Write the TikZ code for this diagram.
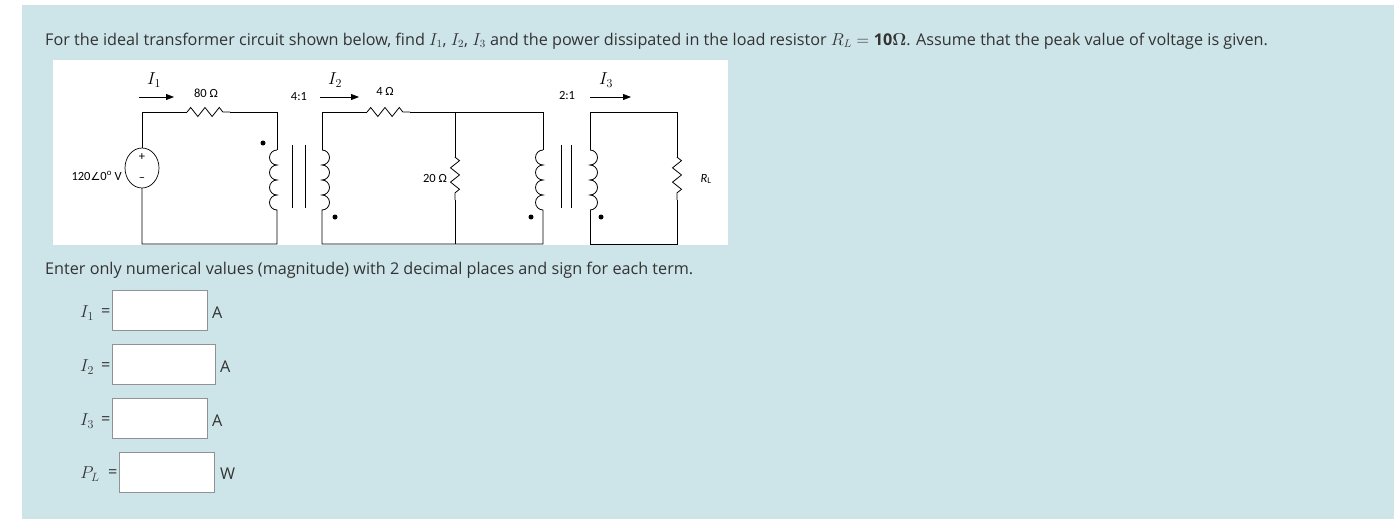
\documentclass[tikz,border=0pt]{standalone}
\usepackage{amsmath}
\usepackage{fontspec}
\setmainfont{Open Sans}
\newfontfamily\cirfont{Carlito}
\newfontfamily\djv{DejaVu Sans}
\usetikzlibrary{decorations.pathmorphing,arrows.meta}
\definecolor{panel}{HTML}{CDE4E8}
\definecolor{txt}{HTML}{333333}
\definecolor{boxgray}{HTML}{8F9396}
\begin{document}
\begin{tikzpicture}[x=1pt,y=-1pt,
  wire/.style={line width=0.8pt,black},
  res/.style={line width=0.8pt,decorate,decoration={zigzag,segment length=14.3pt,amplitude=4.5pt,pre length=0.1pt,post length=0.1pt}},
  cl/.style={font=\cirfont\fontsize{12.5}{13}\selectfont,inner sep=0pt},
  il/.style={font=\fontsize{17}{17}\selectfont,inner sep=0pt},
  arr/.style={line width=0.8pt,-{Triangle[length=8pt,width=6pt]}},
  dot/.style={circle,fill=black,inner sep=0pt,minimum size=5pt},
  ans/.style={draw=boxgray,fill=white,line width=0.8pt},
  ft/.style={font=\fontsize{16.2}{18}\selectfont,text=txt,inner sep=0pt,anchor=west}]
\useasboundingbox (0,0) rectangle (1396,519);
\fill[panel] (22,5) rectangle (1394,519);
\node[ft] (title) at (45,41) {For the ideal transformer circuit shown below, find $I_1$, $I_2$, $I_3$ and the power dissipated in the load resistor $R_L=\mathbf{10}\boldsymbol{\Omega}$. Assume that the peak value of voltage is given.};
\fill[white] (53,60) rectangle (728,245);
% loop 1
\draw[wire] (142,148) -- (142,112) -- (187,112);
\draw[res] (187,112) -- (230,112);
\draw[wire] (230,112) -- (277,112) -- (277,150);
\draw[wire] (277,150) arc[start angle=270,end angle=90,radius=7.5] arc[start angle=270,end angle=90,radius=7.5] arc[start angle=270,end angle=90,radius=7.5] arc[start angle=270,end angle=90,radius=7.5] -- (277,244) -- (142,244) -- (142,188);
\draw[line width=0.7pt] (142,168) ellipse[x radius=17,y radius=20];
\node[cl] (plus) at (142,157) {+};
\node[cl] (minus) at (142,180) {–};
\node[cl,anchor=east] (vs) at (122,176) {120{\djv\fontsize{11}{12}\selectfont∠}0\textsuperscript{o} V};
\node[dot] (d1) at (263,143) {};
\draw[line width=0.7pt] (292,145) -- (292,208) (305,145) -- (305,208);
% loop 2
\draw[wire] (322,150) -- (322,112) -- (367,112);
\draw[res] (367,112) -- (410,112);
\draw[wire] (410,112) -- (543,112) -- (543,150);
\draw[wire] (322,150) arc[start angle=270,end angle=450,radius=7.5] arc[start angle=270,end angle=450,radius=7.5] arc[start angle=270,end angle=450,radius=7.5] arc[start angle=270,end angle=450,radius=7.5] -- (322,244) -- (543,244) -- (543,210);
\draw[wire] (543,150) arc[start angle=270,end angle=90,radius=7.5] arc[start angle=270,end angle=90,radius=7.5] arc[start angle=270,end angle=90,radius=7.5] arc[start angle=270,end angle=90,radius=7.5];
\draw[wire] (455,112) -- (455,157);
\draw[res] (455,157) -- (455,200);
\draw[wire] (455,200) -- (455,244);
\node[dot] (d2) at (335,217) {};
\node[dot] (d3) at (531,217) {};
\draw[line width=0.7pt] (561,145) -- (561,208) (571,145) -- (571,208);
% loop 3
\draw[wire] (590,150) -- (590,112) -- (677,112) -- (677,157);
\draw[res] (677,157) -- (677,200);
\draw[wire] (677,200) -- (677,244) -- (590,244) -- (590,210);
\draw[wire] (590,150) arc[start angle=270,end angle=450,radius=7.5] arc[start angle=270,end angle=450,radius=7.5] arc[start angle=270,end angle=450,radius=7.5] arc[start angle=270,end angle=450,radius=7.5];
\node[dot] (d4) at (601,217) {};
% labels
\node[il] (i1) at (154,80) {$I_1$};
\draw[arr] (139,97) -- (174,97);
\node[cl] (r80) at (206,93) {80 Ω};
\node[cl] (t41) at (299,97) {4:1};
\node[il] (i2) at (335,80) {$I_2$};
\draw[arr] (320,97) -- (359,97);
\node[cl] (r4) at (385,91) {4 Ω};
\node[cl] (t21) at (567,95) {2:1};
\node[il] (i3) at (606,80) {$I_3$};
\draw[arr] (590,97) -- (631,97);
\node[cl,anchor=east] (r20) at (447,178) {20 Ω};
\node[cl] (rl) at (706,179) {\textit{R}\textsubscript{L}};
% form
\node[ft] (enter) at (45,270) {Enter only numerical values (magnitude) with 2 decimal places and sign for each term.};
\node[il,text=txt] (l1) at (87,313) {$I_1$};
\node[ft] at (101,313) {=};
\draw[ans] (112,290) rectangle (207,330); \node[ft] at (212,313) {A};
\node[il,text=txt] (l2) at (87,367) {$I_2$};
\node[ft] at (101,367) {=};
\draw[ans] (112,344) rectangle (215,384); \node[ft] at (220,367) {A};
\node[il,text=txt] (l3) at (87,421) {$I_3$};
\node[ft] at (101,421) {=};
\draw[ans] (112,398) rectangle (207,438); \node[ft] at (212,421) {A};
\node[il,text=txt] (l4) at (90,474) {$P_L$};
\node[ft] at (108,474) {=};
\draw[ans] (119,452) rectangle (214,492); \node[ft] at (220,474) {W};
\end{tikzpicture}
\end{document}
